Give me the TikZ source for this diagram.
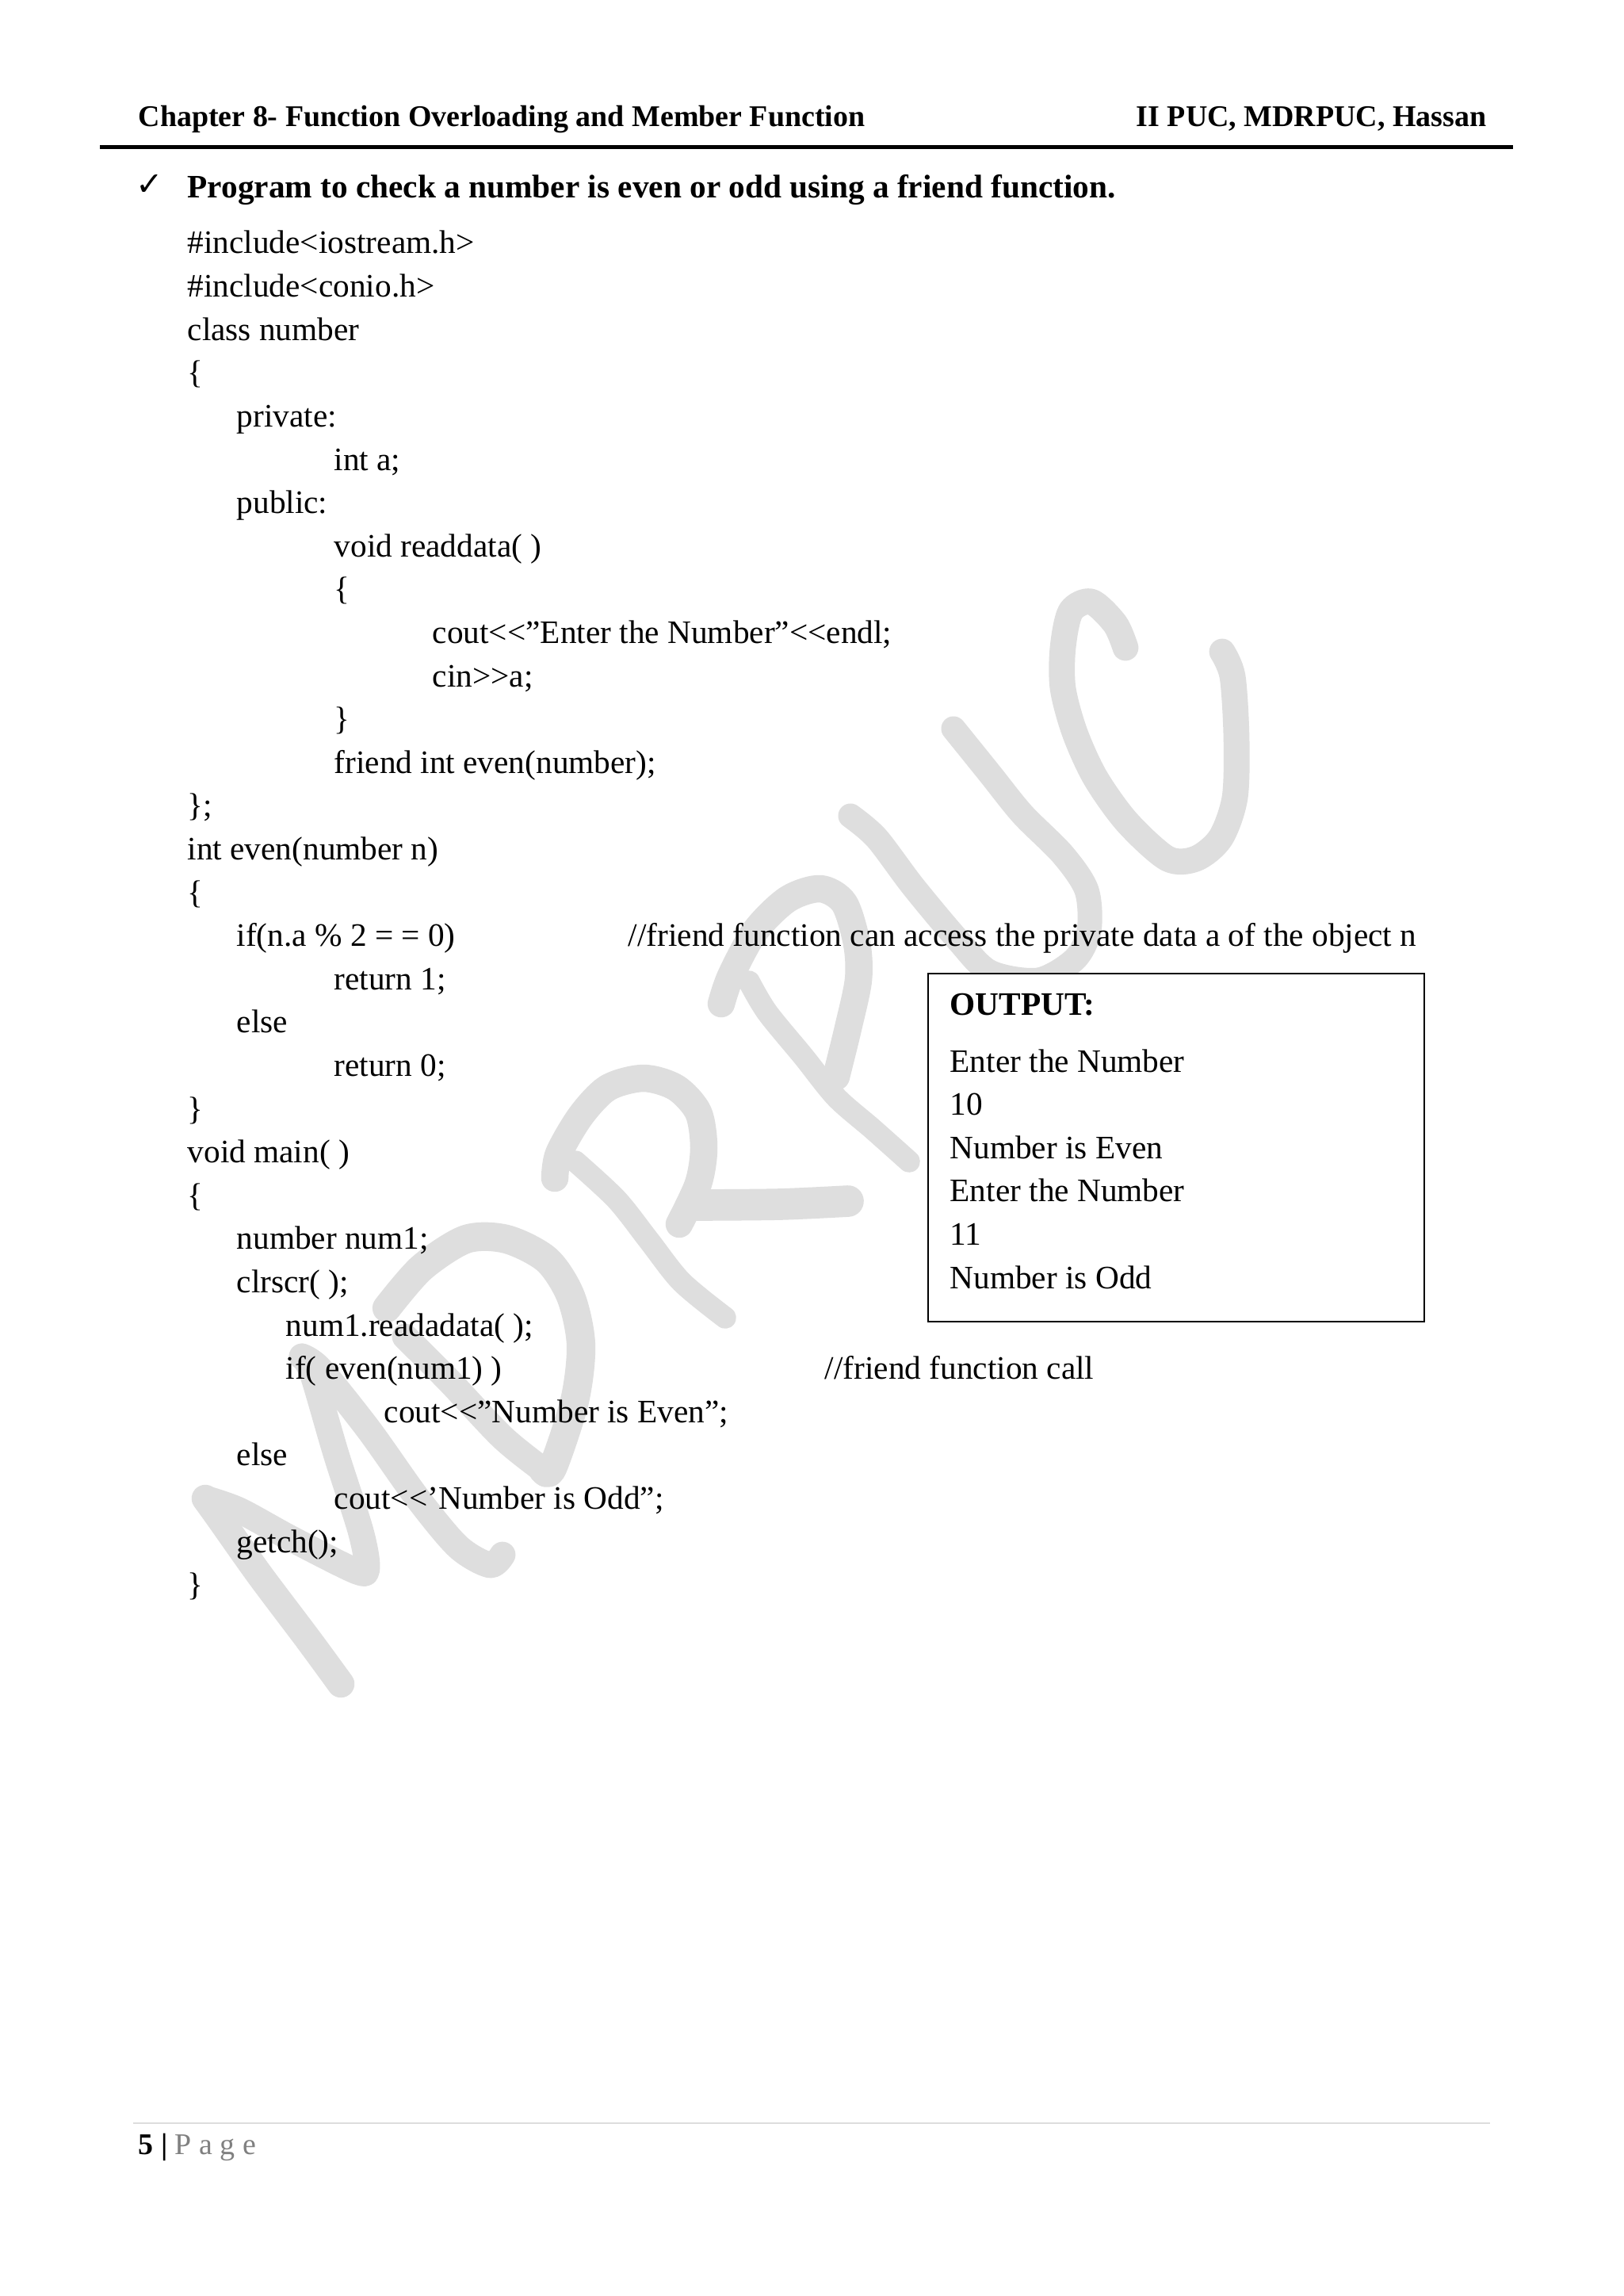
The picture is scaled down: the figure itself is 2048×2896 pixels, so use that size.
\documentclass[tikz,border=0pt]{standalone}
\usepackage{fontspec}
\setmainfont{Liberation Serif}
\newfontfamily\tickfont{DejaVu Sans}
\usepackage{xcolor}
\definecolor{markgray}{HTML}{DEDEDE}
\definecolor{pagegray}{HTML}{808080}
\definecolor{footrule}{HTML}{DDDDDD}

\begin{document}
\begin{tikzpicture}[
    x=0.29pt, y=-0.29pt,
    code/.style={anchor=base west, inner sep=0pt, font=\fontsize{11.98}{14}\selectfont},
    head/.style={code, font=\fontsize{11.98}{14}\selectfont\bfseries},
    running/.style={code, font=\fontsize{11}{13}\selectfont\bfseries},
    stroke/.style={draw=markgray, line width=#1, line cap=round, line join=round},
    outbox/.style={rectangle, draw, fill=white, line width=0.8pt, minimum width=181.5pt, minimum height=127.3pt}
]
    \path[fill=white, use as bounding box] (0,0) rectangle (2048,2896);

    % watermark letters
    \draw[stroke=10pt] plot[smooth] coordinates {(430,2124) (389,2068) (328,1987) (277,1915) (259,1890)};
    \draw[stroke=9.5pt] plot[smooth] coordinates {(259,1890) (302,1905) (368,1941) (450,1982) (463,1977) (455,1931) (424,1834) (394,1732) (381,1711)};
    \draw[stroke=9.5pt] plot[smooth] coordinates {(381,1711) (404,1727) (465,1803) (527,1890) (578,1951) (618,1974) (634,1961)};
    \draw[stroke=9.5pt] plot[smooth] coordinates {(511,1686) (567,1742) (634,1813) (685,1854)};
    \draw[stroke=10.5pt] plot[smooth] coordinates {(685,1854) (697,1852) (725,1767) (733,1696) (720,1635) (690,1589) (639,1563) (588,1563) (532,1599) (488,1650)};
    \draw[stroke=10pt] plot[smooth] coordinates {(700,1486) (705,1455) (733,1407) (767,1372) (812,1360) (853,1372) (881,1403) (888,1448) (881,1493) (857,1544)};
    \draw[stroke=11.5pt] plot[smooth] coordinates {(880,1520) (984,1519) (1070,1515)};
    \draw[stroke=8pt] plot[smooth] coordinates {(726,1465) (778,1513) (819,1565) (860,1617) (915,1662)};
    \draw[stroke=10pt] plot[smooth] coordinates {(910,1266) (922,1231) (953,1174) (994,1134) (1035,1121) (1065,1139) (1081,1190) (1083,1236) (1070,1297) (1055,1358)};
    \draw[stroke=8pt] plot[smooth] coordinates {(945,1238) (968,1277) (1014,1333) (1055,1384) (1101,1424) (1147,1465)};
    \draw[stroke=9pt] plot[smooth] coordinates {(1203,919) (1249,976) (1290,1027) (1341,1078) (1371,1123) (1374,1174) (1356,1210) (1310,1236) (1249,1226) (1208,1185) (1152,1118) (1106,1057) (1073,1029)};
    \draw[stroke=9.5pt] plot[smooth] coordinates {(1420,817) (1407,787) (1377,759) (1351,771) (1341,817) (1341,868) (1356,924) (1382,981) (1422,1037) (1473,1083) (1509,1083) (1540,1057) (1558,1006) (1560,930) (1555,853) (1542,822)};

    % page header
    \node[running] (chapter) at (174,159.5) {Chapter 8- Function Overloading and Member Function};
    \node[running, anchor=base east] (college) at (1876,159.5) {II PUC, MDRPUC, Hassan};
    \coordinate (ruleleft) at (126,185.5);
    \coordinate (ruleright) at (1909,185.5);
    \draw[line width=1.5pt] (ruleleft) -- (ruleright);

    \node[code] (tick) at (171,247) {\tickfont ✓};
    \node[head] (title) at (236,250) {Program to check a number is even or odd using a friend function.};

    % program
    \node[code] (incio) at (236,320) {\#include<iostream.h>};
    \node[code] (incon) at (236,374.6) {\#include<conio.h>};
    \node[code] (classnum) at (236,429.2) {class number};
    \node[code] (classopen) at (236,483.8) {\{};
    \node[code] (priv) at (298,538.4) {private:};
    \node[code] (inta) at (421,593) {int a;};
    \node[code] (pub) at (298,647.6) {public:};
    \node[code] (readdata) at (421,702.2) {void readdata( )};
    \node[code] (readopen) at (421,756.8) {\{};
    \node[code] (prompt) at (545,811.4) {cout<{}<”Enter the Number”<{}<endl;};
    \node[code] (cina) at (545,866) {cin>{}>a;};
    \node[code] (readclose) at (421,920.6) {\}};
    \node[code] (friend) at (421,975.2) {friend int even(number);};
    \node[code] (classclose) at (236,1029.8) {\};};
    \node[code] (evendef) at (236,1084.4) {int even(number n)};
    \node[code] (evenopen) at (236,1139) {\{};
    \node[code] (test) at (298,1193.6) {if(n.a \% 2 = = 0)};
    \node[code] (testnote) at (792,1193.6) {//friend function can access the private data a of the object n};
    \node[code] (ret1) at (421,1248.2) {return 1;};
    \node[code] (else1) at (298,1302.8) {else};
    \node[code] (ret0) at (421,1357.4) {return 0;};
    \node[code] (evenclose) at (236,1412) {\}};
    \node[code] (maindef) at (236,1466.6) {void main( )};
    \node[code] (mainopen) at (236,1521.2) {\{};
    \node[code] (numdecl) at (298,1575.8) {number num1;};
    \node[code] (clear) at (298,1630.4) {clrscr( );};
    \node[code] (readcall) at (360,1685) {num1.readadata( );};
    \node[code] (evencall) at (360,1739.6) {if( even(num1) )};
    \node[code] (callnote) at (1040,1739.6) {//friend function call};
    \node[code] (printeven) at (484,1794.2) {cout<{}<”Number is Even”;};
    \node[code] (else2) at (298,1848.8) {else};
    \node[code] (printodd) at (421,1903.4) {cout<{}<’Number is Odd”;};
    \node[code] (getch) at (298,1958) {getch();};
    \node[code] (mainclose) at (236,2012.6) {\}};

    % output box
    \node[outbox] (output) at (1484,1447.5) {};
    \node[head] (outtitle) at (1198,1280) {OUTPUT:};
    \node[code] (out1) at (1198,1352) {Enter the Number};
    \node[code] (out2) at (1198,1406.6) {10};
    \node[code] (out3) at (1198,1461.2) {Number is Even};
    \node[code] (out4) at (1198,1515.8) {Enter the Number};
    \node[code] (out5) at (1198,1570.4) {11};
    \node[code] (out6) at (1198,1625) {Number is Odd};

    % page footer
    \coordinate (footleft) at (168,2678);
    \coordinate (footright) at (1880,2678);
    \draw[footrule, line width=0.6pt] (footleft) -- (footright);
    \node[running, font=\fontsize{11}{13}\selectfont] (pageno) at (174,2717) {\textbf{5 |} \textcolor{pagegray}{P a g e}};
\end{tikzpicture}
\end{document}
